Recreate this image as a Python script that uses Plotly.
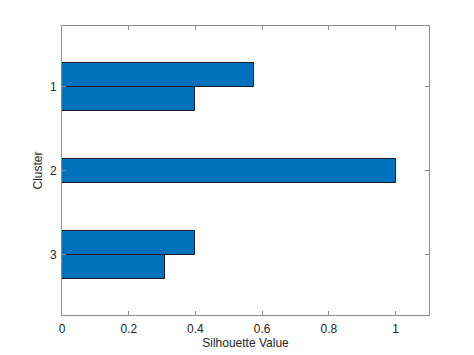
import plotly.graph_objects as go

# Data
clusters = [1, 1, 2, 3, 3]
silhouette_values = [0.575, 0.40, 1.0, 0.40, 0.31]
cluster_labels = ["1", "2", "3"]
x_ticks = [0, 0.2, 0.4, 0.6, 0.8, 1]
x_tick_labels = ["0", "0.2", "0.4", "0.6", "0.8", "1"]

# y positions as MATLAB silhouette: sequential with a gap of 2 between clusters
space = 2
positions = [i + 1 + space * (c - 1) for i, c in enumerate(clusters)]
centers = []
for k in sorted(set(clusters)):
    p = [positions[i] for i, c in enumerate(clusters) if c == k]
    centers.append((min(p) + max(p)) / 2)

fig = go.Figure(go.Bar(
    x=silhouette_values, y=positions, orientation="h", width=1,
    marker=dict(color="#0072BD", line=dict(color="#1a1a1a", width=1)),
))

font = dict(family="Liberation Sans, Arial", size=12, color="#262626")
axis_common = dict(
    showline=True, linecolor="#8c8c8c", linewidth=1, mirror="ticks",
    ticks="inside", ticklen=4, tickcolor="#8c8c8c", showgrid=False, zeroline=False,
    tickfont=font, automargin=False,
)

# page body has an 8px margin, so the figure is offset by 8px
fig.update_layout(
    width=466, height=347,
    margin=dict(l=54, r=45, t=18, b=40),
    plot_bgcolor="white", paper_bgcolor="white",
    showlegend=False, bargap=0,
    xaxis=dict(range=[0, 1.1], tickvals=x_ticks, ticktext=x_tick_labels,
               ticklabelstandoff=3,
               title=dict(text="Silhouette Value", standoff=1, font=font),
               **axis_common),
    yaxis=dict(range=[11, -1.04], tickvals=centers, ticktext=cluster_labels,
               ticklabelstandoff=2,
               title=dict(text="Cluster", standoff=4, font=font),
               **axis_common),
)

fig.write_html("out.html")
